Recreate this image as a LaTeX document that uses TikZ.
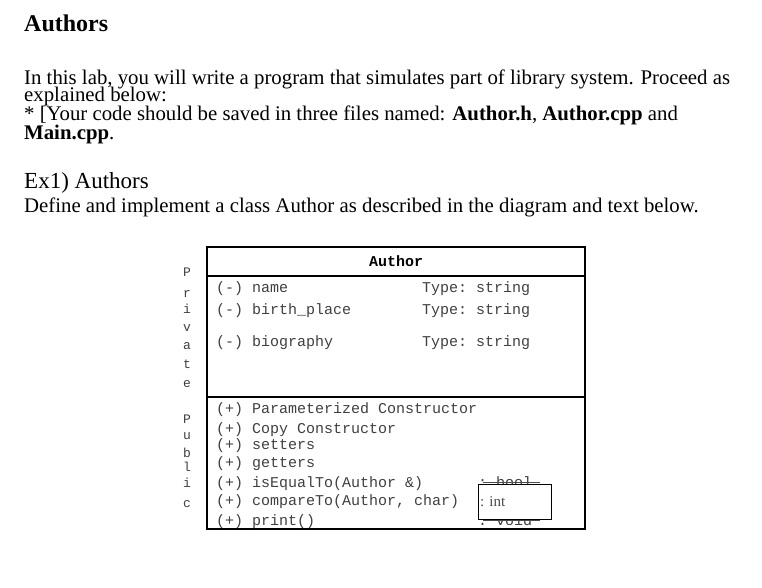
\documentclass[tikz,border=0pt]{standalone}
\usepackage{fontspec}
\setmainfont{Liberation Serif}
\setmonofont{Liberation Mono}
\begin{document}
\begin{tikzpicture}[x=1pt,y=-1pt,
  txt/.style={anchor=base west,inner sep=0pt,font=\fontsize{20.8}{20.8}\selectfont},
  code/.style={anchor=base west,inner sep=0pt,font=\ttfamily\fontsize{15}{15}\selectfont,text=black!75},
  side/.style={anchor=base,inner sep=0pt,font=\ttfamily\fontsize{13}{13}\selectfont,text=black!75}]
\useasboundingbox[fill=white] (0,0) rectangle (762,588);
\node[txt,font=\bfseries\fontsize{24}{24}\selectfont] (h) at (24,32) {Authors};
\node[txt] (l1) at (24,85) {In this lab, you will write a program that simulates part of library system. Proceed as};
\node[txt] (l2) at (24,102) {explained below:};
\node[txt] (l3) at (24,121) {* [Your code should be saved in three files named: \textbf{Author.h}, \textbf{Author.cpp} and};
\node[txt] (l4) at (24,140) {\textbf{Main.cpp}.};
\node[txt,font=\fontsize{23}{23}\selectfont] (e1) at (24,189) {Ex1) Authors};
\node[txt] (l5) at (24,212) {Define and implement a class Author as described in the diagram and text below.};
% class box
\draw[line width=1.6pt] (207,247) rectangle (585,529);
\draw[line width=1.6pt] (207,276) -- (585,276);
\draw[line width=1.6pt] (207,397) -- (585,397);
\node[code,anchor=base,font=\ttfamily\bfseries\fontsize{15}{15}\selectfont,text=black] (t) at (396,266) {Author};
\node[code] (a1) at (216,292) {(-) name};
\node[code] (a1t) at (422,292) {Type: string};
\node[code] (a2) at (216,314) {(-) birth\_place};
\node[code] (a2t) at (422,314) {Type: string};
\node[code] (a3) at (216,346) {(-) biography};
\node[code] (a3t) at (422,346) {Type: string};
\node[code] (m1) at (216,413) {(+) Parameterized Constructor};
\node[code] (m2) at (216,433) {(+) Copy Constructor};
\node[code] (m3) at (216,449) {(+) setters};
\node[code] (m4) at (216,467) {(+) getters};
\node[code] (m5) at (216,487) {(+) isEqualTo(Author \&)};
\node[code] (m6) at (216,505) {(+) compareTo(Author, char)};
\node[code] (m7) at (216,525) {(+) print()};
\node[code] (m5t) at (478,487) {: bool};
\node[code] (m7t) at (478,525) {: void};
\draw[black!70] (483,482) -- (540,482);
\draw[black!70] (483,520) -- (540,520);
\draw[line width=1pt,fill=white] (478,484) rectangle (551,519);
\node[txt,font=\fontsize{15}{15}\selectfont,text=black!70] (m6t) at (480,506) {: int};
% side letters
\foreach \c/\y [count=\i] in {P/276,r/297,i/313,v/331,a/349,t/368,e/387}
  \node[side] (p\i) at (187,\y) {\c};
\foreach \c/\y [count=\i] in {P/423,u/439,b/457,l/471,i/487,c/507}
  \node[side] (q\i) at (187,\y) {\c};
\end{tikzpicture}
\end{document}
